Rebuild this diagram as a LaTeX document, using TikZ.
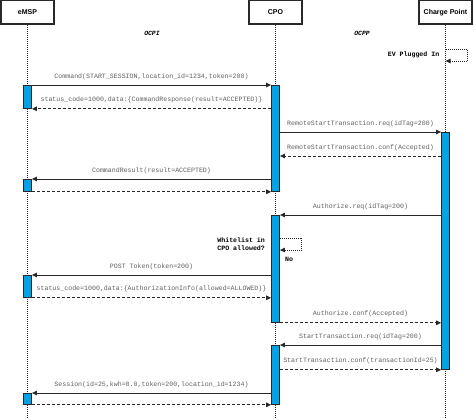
\documentclass[tikz,border=0pt]{standalone}
\usepackage{fontspec}
\setmainfont{Liberation Sans}
\setsansfont{Liberation Sans}
\setmonofont{Liberation Mono}
\usetikzlibrary{arrows.meta,calc}
\definecolor{actblue}{RGB}{0,162,232}
\definecolor{lblgray}{RGB}{95,95,95}
\definecolor{linegray}{RGB}{40,40,40}
\begin{document}
\begin{tikzpicture}[x=1pt,y=-1pt,
 hdr/.style={draw=linegray, line width=1.2pt, fill=white, minimum width=53pt, minimum height=23.5pt, inner sep=0pt, font=\sffamily\bfseries\fontsize{7}{8}\selectfont},
 life/.style={draw=linegray, line width=0.8pt, dash pattern=on 1pt off 1pt},
 act/.style={draw=linegray, line width=0.8pt, fill=actblue, minimum width=8pt, inner sep=0pt, anchor=north},
 msg/.style={draw=linegray, line width=0.9pt, -{Triangle[length=5pt,width=4.5pt]}},
 ret/.style={msg, dash pattern=on 3pt off 2pt},
 selfmsg/.style={msg, dash pattern=on 1pt off 1pt},
 lbl/.style={font=\ttfamily\fontsize{6.6}{7.5}\selectfont, text=lblgray, inner sep=0.5pt, above=4.5pt, midway},
 note/.style={font=\ttfamily\bfseries\fontsize{6.6}{7.8}\selectfont, text=black, inner sep=0pt, align=left},
 proto/.style={font=\ttfamily\bfseries\itshape\fontsize{6.4}{7.5}\selectfont, text=black, inner sep=0pt}
]
\useasboundingbox (0,0) rectangle (474,418);
\coordinate (bot) at (0,418);

% headers
\node[hdr] (emsp) at (27.5,12.25) {eMSP};
\node[hdr] (cpo) at (275.5,12.25) {CPO};
\node[hdr] (cp) at (445.5,12.25) {Charge Point};

\node[proto] (ocpi) at (152,33) {OCPI};
\node[proto] (ocpp) at (362,33) {OCPP};

% lifelines
\draw[life] (emsp.south) -- (emsp.south |- bot);
\draw[life] (cpo.south) -- (cpo.south |- bot);
\draw[life] (cp.south) -- (cp.south |- bot);

% activations
\node[act, minimum height=23pt] (e1) at (27.5,85) {};
\node[act, minimum height=12pt] (e2) at (27.5,179) {};
\node[act, minimum height=22pt] (e3) at (27.5,275) {};
\node[act, minimum height=11pt] (e4) at (27.5,393) {};
\node[act, minimum height=106pt] (c1) at (275.5,85) {};
\node[act, minimum height=107pt] (c2) at (275.5,215) {};
\node[act, minimum height=59pt] (c3) at (275.5,345) {};
\node[act, minimum height=237pt] (p1) at (445.5,132) {};

% helper rows
\coordinate (y156) at (0,156);
\coordinate (ev1) at (445.5,49);
\coordinate (ev2) at (445.5,61);
\coordinate (y238) at (0,238);
\coordinate (y250) at (0,250);

% EV plugged in
\draw[selfmsg] (ev1) -- ++(21.5,0) |- (ev2);
\node[note, anchor=east] (evn) at ($(ev1)!0.5!(ev2)+(-6,0)$) {EV Plugged In};

% messages
\draw[msg] (e1.north east) -- (c1.north west)
  node[lbl] {Command(START\_SESSION,location\_id=1234,token=200)};
\draw[ret] (c1.west |- e1.south) -- (e1.south east)
  node[lbl] {status\_code=1000,data:\{CommandResponse(result=ACCEPTED)\}};
\draw[msg] (c1.east |- p1.north) -- (p1.north west)
  node[lbl] {RemoteStartTransaction.req(idTag=200)};
\draw[ret] (p1.west |- y156) -- (c1.east |- y156)
  node[lbl] {RemoteStartTransaction.conf(Accepted)};
\draw[msg] (c1.west |- e2.north) -- (e2.north east)
  node[lbl] {CommandResult(result=ACCEPTED)};
\draw[ret] (e2.south east) -- (c1.south west);
\draw[msg] (p1.west |- c2.north) -- (c2.north east)
  node[lbl] {Authorize.req(idTag=200)};

% whitelist self check
\draw[selfmsg] (c2.east |- y238) -- ++(22,0) |- (c2.east |- y250);
\node[note, anchor=east] (wl) at ($(c2.west |- y238)!0.5!(c2.west |- y250)+(-6,0)$) {Whitelist in\\CPO allowed?};
\node[note, anchor=west] (no) at ($(c2.east |- y250)+(5,9)$) {No};

\draw[msg] (c2.west |- e3.north) -- (e3.north east)
  node[lbl] {POST Token(token=200)};
\draw[ret] (e3.south east) -- (c2.west |- e3.south)
  node[lbl] {status\_code=1000,data:\{AuthorizationInfo(allowed=ALLOWED)\}};
\draw[ret] (c2.south east) -- (p1.west |- c2.south)
  node[lbl] {Authorize.conf(Accepted)};
\draw[msg] (p1.west |- c3.north) -- (c3.north east)
  node[lbl] {StartTransaction.req(idTag=200)};
\draw[ret] (c3.east |- p1.south) -- (p1.south west)
  node[lbl] {StartTransaction.conf(transactionId=25)};
\draw[msg] (c3.west |- e4.north) -- (e4.north east)
  node[lbl] {Session(id=25,kwh=0.0,token=200,location\_id=1234)};
\draw[ret] (e4.south east) -- (c3.south west);
\end{tikzpicture}
\end{document}
